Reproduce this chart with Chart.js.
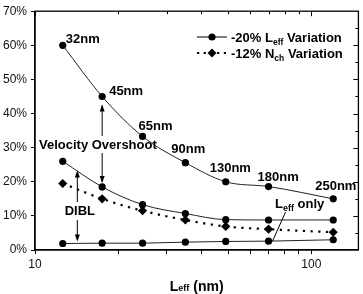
<!DOCTYPE html>
<html>
<head>
<meta charset="utf-8">
<script src="https://cdn.jsdelivr.net/npm/chart.js@4.4.1/dist/chart.umd.min.js"></script>
<style>
  html, body { margin: 0; padding: 0; background: #fff; }
  #wrap { width: 363px; height: 294px; position: relative; }
</style>
</head>
<body>
<div id="wrap"><canvas id="chart" width="363" height="294"></canvas></div>
<script>
// data (x = Leff in nm, y = % change)
const leffNm = [12.6, 17.5, 24.5, 35, 49, 70, 120];
const nodeLabels = ["32nm", "45nm", "65nm", "90nm", "130nm", "180nm", "250nm"];
const leffVarOvershoot = [60, 45, 33.3, 25.6, 20, 18.6, 15];
const leffVarNoOvershoot = [26, 18.5, 13.3, 10.7, 8.9, 8.8, 8.8];
const nchVar = [19.5, 15, 11.5, 8.8, 6.9, 6.1, 5.2];
const leffOnly = [1.9, 2, 2, 2.3, 2.5, 2.6, 3.0];
const xTicks = [10, 20, 30, 40, 50, 60, 70, 80, 90, 100];
const xTickLabels = { 10: "10", 100: "100" };

const FONT = "'Liberation Sans', Arial, Helvetica, sans-serif";

function pts(ys) {
  return leffNm.map((x, i) => ({ x, y: ys[i] }));
}

// text with sub-scripts: parts = [[text, size, dy], ...]
function richText(ctx, parts, x, y, align) {
  let w = 0;
  parts.forEach((p) => {
    ctx.font = "bold " + p[1] + "px " + FONT;
    w += ctx.measureText(p[0]).width;
  });
  let cx = align === "center" ? x - w / 2 : x;
  ctx.textAlign = "left";
  ctx.textBaseline = "alphabetic";
  parts.forEach((p) => {
    ctx.font = "bold " + p[1] + "px " + FONT;
    ctx.fillText(p[0], cx, y + (p[2] || 0));
    cx += ctx.measureText(p[0]).width;
  });
  return w;
}

function arrowHead(ctx, x, y, dir) {
  // dir: -1 pointing up, +1 pointing down
  ctx.beginPath();
  ctx.moveTo(x, y);
  ctx.lineTo(x - 2.5, y - dir * 7);
  ctx.lineTo(x + 2.5, y - dir * 7);
  ctx.closePath();
  ctx.fill();
}

// node labels offsets from their point (px)
const nodeOffsets = [[3, -6], [7, -5], [-4, -10], [-14, -13], [-16, -13], [-11, -9], [-18, -12]];

const annotations = {
  id: "annotations",
  afterDatasetsDraw(chart) {
    const { ctx, chartArea: a, scales } = chart;
    const xs = scales.x, ys = scales.y;
    ctx.save();
    ctx.fillStyle = "#000";
    ctx.strokeStyle = "#000";

    // frame + inward ticks on top and right
    ctx.lineWidth = 1.3;
    ctx.strokeRect(a.left, a.top, a.right - a.left, a.bottom - a.top);
    ctx.lineWidth = 1;
    ctx.beginPath();
    xTicks.forEach((v) => {
      const px = Math.round(xs.getPixelForValue(v)) + 0.5;
      const len = xTickLabels[v] ? 5 : 3;
      ctx.moveTo(px, a.top);
      ctx.lineTo(px, a.top + len);
    });
    for (let v = 5; v < 70; v += 5) {
      const py = Math.round(ys.getPixelForValue(v)) + 0.5;
      const len = v % 10 === 0 ? 5 : 3;
      ctx.moveTo(a.right, py);
      ctx.lineTo(a.right - len, py);
    }
    ctx.stroke();

    // node labels along the top curve
    ctx.font = "bold 13px " + FONT;
    ctx.textAlign = "left";
    ctx.textBaseline = "middle";
    nodeLabels.forEach((lab, i) => {
      const px = xs.getPixelForValue(leffNm[i]);
      const py = ys.getPixelForValue(leffVarOvershoot[i]);
      ctx.fillText(lab, px + nodeOffsets[i][0], py + nodeOffsets[i][1]);
    });

    // Velocity Overshoot with arrows to the 45nm points
    const x45 = xs.getPixelForValue(leffNm[1]);
    const yTop = ys.getPixelForValue(leffVarOvershoot[1]);
    const yMid = ys.getPixelForValue(leffVarNoOvershoot[1]);
    ctx.fillText("Velocity Overshoot", 39, 145);
    ctx.lineWidth = 1;
    ctx.beginPath();
    ctx.moveTo(x45, 136);
    ctx.lineTo(x45, yTop + 9);
    ctx.moveTo(x45, 153);
    ctx.lineTo(x45, yMid - 5);
    ctx.stroke();
    arrowHead(ctx, x45, yTop + 8, -1);
    arrowHead(ctx, x45, yMid - 4, 1);

    // DIBL double arrow
    const xd = xs.getPixelForValue(leffNm[0]) + 14.6;
    const d1 = ys.getPixelForValue(23.3);
    const d2 = ys.getPixelForValue(2.5);
    ctx.beginPath();
    ctx.moveTo(xd, d1 + 2);
    ctx.lineTo(xd, 202);
    ctx.moveTo(xd, 220);
    ctx.lineTo(xd, d2 - 2);
    ctx.stroke();
    arrowHead(ctx, xd, d1, -1);
    arrowHead(ctx, xd, d2, 1);
    ctx.textAlign = "center";
    ctx.fillText("DIBL", xd + 2.5, 211);

    // Leff only
    const x70 = xs.getPixelForValue(leffNm[5]);
    const y70 = ys.getPixelForValue(leffOnly[5]);
    ctx.beginPath();
    ctx.moveTo(x70 + 4, y70);
    ctx.lineTo(x70 + 17, 212);
    ctx.stroke();
    richText(ctx, [["L", 13, 0], ["eff", 9, 3], [" only", 13, 0]], 275, 208, "left");

    // legend
    const lx0 = 197, lx1 = 227, lt = 231;
    ctx.lineWidth = 1;
    ctx.beginPath();
    ctx.moveTo(lx0, 37);
    ctx.lineTo(lx1, 37);
    ctx.stroke();
    ctx.beginPath();
    ctx.arc((lx0 + lx1) / 2, 37, 3.6, 0, Math.PI * 2);
    ctx.fill();
    ctx.lineWidth = 2.2;
    ctx.setLineDash([2.2, 4.5]);
    ctx.beginPath();
    ctx.moveTo(lx0, 53);
    ctx.lineTo(lx1, 53);
    ctx.stroke();
    ctx.setLineDash([]);
    const dx = (lx0 + lx1) / 2;
    ctx.beginPath();
    ctx.moveTo(dx, 48.5);
    ctx.lineTo(dx + 4.5, 53);
    ctx.lineTo(dx, 57.5);
    ctx.lineTo(dx - 4.5, 53);
    ctx.closePath();
    ctx.fill();
    richText(ctx, [["-20% L", 13, 0], ["eff", 8.5, 3], [" Variation", 13, 0]], lt, 42, "left");
    richText(ctx, [["-12% N", 13, 0], ["ch", 8.5, 3], [" Variation", 13, 0]], lt, 58, "left");

    // x axis title
    richText(ctx, [["L", 14, 0], ["eff", 9, 0], [" (nm)", 14, 0]], (a.left + a.right) / 2, 291, "center");

    ctx.restore();
  },
};

const circleSeries = (data, extra) => Object.assign({
  data: pts(data),
  borderColor: "#222",
  backgroundColor: "#000",
  borderWidth: 1,
  pointStyle: "circle",
  pointRadius: 3.6,
  pointBorderWidth: 0,
  cubicInterpolationMode: "monotone",
}, extra || {});

new Chart(document.getElementById("chart"), {
  type: "line",
  data: {
    datasets: [
      circleSeries(leffVarOvershoot, { label: "-20% Leff Variation" }),
      circleSeries(leffVarNoOvershoot, { label: "-20% Leff Variation (no overshoot)" }),
      {
        label: "-12% Nch Variation",
        data: pts(nchVar),
        borderColor: "#000",
        backgroundColor: "#000",
        borderWidth: 2.2,
        borderDash: [2.2, 5.5],
        pointStyle: "rectRot",
        pointRadius: 4.6,
        pointBorderWidth: 0,
        cubicInterpolationMode: "monotone",
      },
      circleSeries(leffOnly, { label: "Leff only", cubicInterpolationMode: "default", tension: 0 }),
    ],
  },
  options: {
    responsive: false,
    animation: false,
    layout: { padding: { top: 6, right: 2.5, left: 0, bottom: 0 } },
    plugins: { legend: { display: false }, tooltip: { enabled: false } },
    scales: {
      x: {
        type: "logarithmic",
        min: 10,
        max: 148,
        afterBuildTicks: (scale) => {
          scale.ticks = xTicks.map((v) => ({ value: v, major: !!xTickLabels[v] }));
        },
        afterFit: (scale) => { scale.height = 44; },
        grid: { drawOnChartArea: false, drawTicks: true, tickLength: 4, color: "#000", tickWidth: 1 },
        border: { display: true, color: "#000", width: 1.3 },
        ticks: {
          autoSkip: false,
          maxRotation: 0,
          padding: 3,
          color: "#111",
          font: { family: FONT, size: 12 },
          callback: (v) => xTickLabels[v] || "",
        },
      },
      y: {
        min: 0,
        max: 70,
        afterFit: (scale) => { scale.width = 35; },
        grid: { drawOnChartArea: false, drawTicks: true, tickLength: 4, color: "#000", tickWidth: 1 },
        border: { display: true, color: "#000", width: 1.3 },
        ticks: {
          stepSize: 5,
          padding: 4,
          color: "#111",
          font: { family: FONT, size: 12 },
          callback: (v) => (v % 10 === 0 ? v + "%" : ""),
        },
      },
    },
  },
  plugins: [annotations],
});
</script>
</body>
</html>
